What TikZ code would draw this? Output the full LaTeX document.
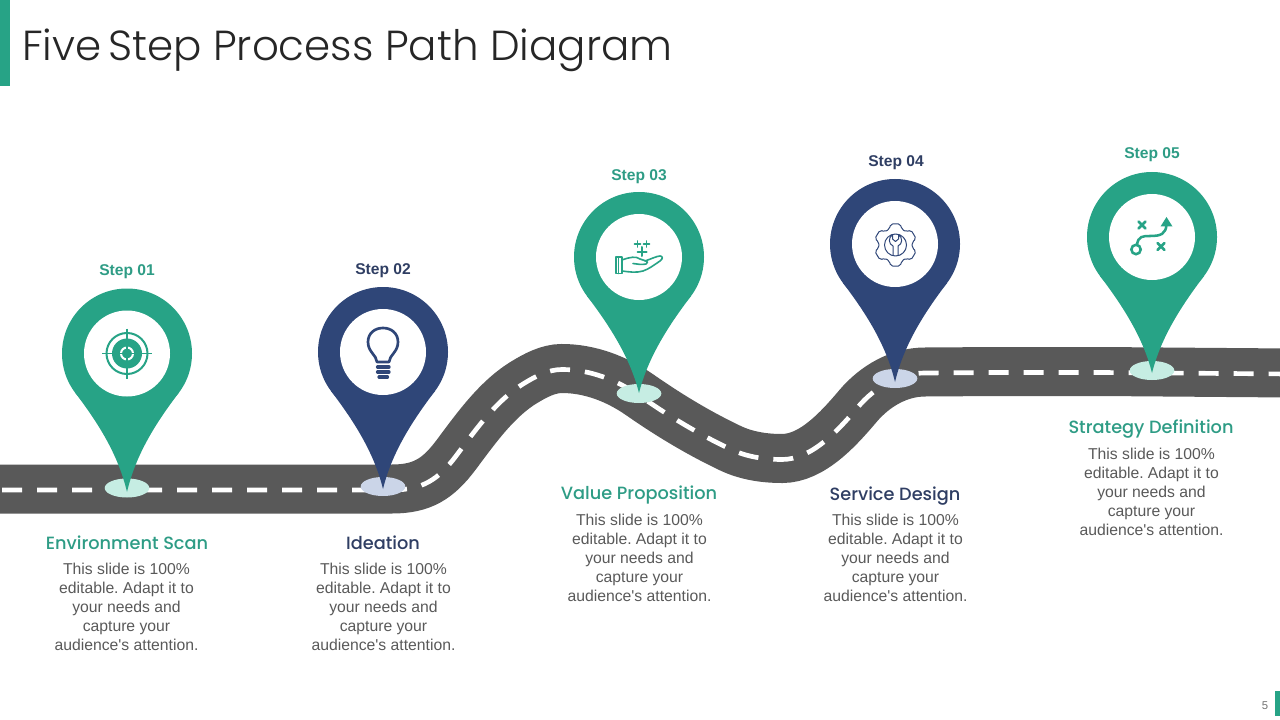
\documentclass[tikz,border=0pt]{standalone}
\usepackage{fontspec}
\setmainfont{Liberation Sans}
\newfontfamily\titlefont{Poppins Light}
\newfontfamily\headfont{Poppins Medium}
\definecolor{teal1}{HTML}{27A386}
\definecolor{navy1}{HTML}{2F4678}
\definecolor{road}{HTML}{595959}
\definecolor{lgreen}{HTML}{C6EDE3}
\definecolor{lblue}{HTML}{CBD5E8}
\definecolor{bodyc}{HTML}{595959}
\definecolor{headteal}{HTML}{2E9C85}
\definecolor{headnavy}{HTML}{2F3E63}
\tikzset{
  steplabel/.style={font=\fontsize{11.7}{14}\selectfont\bfseries,inner sep=0pt},
  headlabel/.style={font=\headfont\fontsize{13.3}{16}\selectfont,inner sep=0pt,anchor=base},
  bodytext/.style={font=\fontsize{11.8}{14.25}\selectfont\frenchspacing,text=bodyc,align=center,inner sep=0pt},
}
\newcommand{\roadline}[1]{\draw[#1] (-33,490) -- (392,490)
  .. controls (422,490) and (438,480) .. (456,456)
  .. controls (475.2,430.4) and (495.8,401) .. (523,384)
  .. controls (535,376.6) and (548,369.5) .. (562,369.5)
  .. controls (590,369.5) and (617,380) .. (640,396)
  .. controls (668.7,416) and (698.5,434) .. (730,449)
  .. controls (746,456.7) and (764,459.5) .. (782,459.5)
  .. controls (812,459.5) and (838.5,430) .. (858,407)
  .. controls (875,387) and (899,373) .. (925,373)
  -- (1000,372.5) -- (1100,372.5) -- (1290,374);}
\newcommand{\pin}[6]{%
  \fill[#5] (#1,#6) ellipse [x radius=22.3,y radius=9.5];
  \fill[#4] (#1,#2) circle [radius=65];
  \fill[#4] (#1-52,#2+39) .. controls (#1-30,#2+68) and (#1-9,#2+100) .. (#1,#2+#3)
     .. controls (#1+9,#2+100) and (#1+30,#2+68) .. (#1+52,#2+39) -- cycle;
  \fill[white] (#1,#2) circle [radius=43];
}
\begin{document}
\begin{tikzpicture}[x=0.75pt,y=-0.75pt]
\useasboundingbox (0,0) rectangle (1280,720);
\fill[teal1] (0,0) rectangle (10,86);
\fill[teal1] (1275,691) rectangle (1280,716);
\node[anchor=base west,inner sep=0pt,text=black!85,font=\titlefont\fontsize{31.5}{38}\selectfont] (title) at (22,61) {Five\hspace{-0.12em} Step Process Path Diagram};
\node[inner sep=0pt,text=black!55,font=\fontsize{8.5}{10}\selectfont] (pageno) at (1265,706) {5};
\begin{scope}
\clip (0,0) rectangle (1280,720);
\begin{scope}[yshift=0.75pt]
\roadline{road,line width=36.75pt}
\end{scope}
\roadline{white,line width=3.5pt,dash pattern=on 15pt off 11.25pt}
\end{scope}
\pin{127}{353.5}{138.5}{teal1}{lgreen}{488}
\pin{383}{352}{137}{navy1}{lblue}{486.5}
\pin{639}{257}{136}{teal1}{lgreen}{393.5}
\pin{895}{244}{138}{navy1}{lblue}{378.5}
\pin{1152}{237}{136}{teal1}{lgreen}{370.5}
% target icon
\draw[teal1,line width=1.5pt] (127,353.5) circle [radius=20.5];
\fill[teal1] (127,353.5) circle [radius=15];
\draw[white,line width=1.5pt] (127,353.5) circle [radius=6];
\draw[teal1,line width=1.4pt] (102,353.5) -- (152,353.5) (127,328.5) -- (127,378.5);
% bulb icon
\draw[navy1,line width=2pt,line join=round] (377,362) .. controls (376.5,355) and (368,352) .. (368,342) .. controls (368,333) and (375,328) .. (383,328) .. controls (391,328) and (398,333) .. (398,342) .. controls (398,352) and (389.5,355) .. (389,362) -- cycle;
\draw[navy1,line width=2.4pt,line cap=round] (377.5,367) -- (389,367) (377.5,372) -- (389,372) (379,377) -- (387.5,377);
% hand icon
\begin{scope}[teal1,line width=1.2pt,line join=round,line cap=round]
\draw (616,257) rectangle (622,273.5);
\draw (618.6,257) -- (618.6,273.5);
\draw (622,260) .. controls (630,257) and (636,256) .. (640,259) .. controls (645,261) and (650,261) .. (646,264)
  .. controls (642,265) and (637,264) .. (633,263.5);
\draw (645,261) .. controls (651,259) and (657,256) .. (660,256) .. controls (663,256) and (663,259) .. (660,261)
  .. controls (654,265) and (649,269) .. (643,271) .. controls (636,273) and (630,272) .. (622,271);
\draw[line width=1.5pt] (642,247) -- (642,256) (637.5,251.5) -- (646.5,251.5);
\draw[line width=1.4pt] (637.5,241) -- (637.5,247) (634.5,244) -- (640.5,244);
\draw[line width=1.4pt] (646.5,241) -- (646.5,247) (643.5,244) -- (649.5,244);
\end{scope}
% gear icon
\begin{scope}[shift={(895.5,245)},navy1,line width=0.75pt,line join=round]
\draw[rounded corners=1.5pt] (-6,-16) -- (-5,-21) -- (5,-21) -- (6,-16) -- (10.7,-13.2) -- (15.5,-15) -- (20.7,-6.3) -- (16.7,-3) -- (16.7,3) -- (20.7,6.3) -- (15.5,15) -- (10.7,13.2) -- (6,16) -- (5,21) -- (-5,21) -- (-6,16) -- (-10.7,13.2) -- (-15.5,15) -- (-20.7,6.3) -- (-16.7,3) -- (-16.7,-3) -- (-20.7,-6.3) -- (-15.5,-15) -- (-10.7,-13.2) -- cycle;
\draw (0,0) circle [radius=11];
\draw (-2.5,10.7) -- (-2.5,1) .. controls (-7,-1) and (-7.5,-7) .. (-3,-10.5) -- (-3,-6) -- (0,-3.5) -- (3,-6) -- (3,-10.5) .. controls (7.5,-7) and (7,-1) .. (2.5,1) -- (2.5,10.7);
\end{scope}
% strategy icon
\begin{scope}[teal1,line width=1.9pt,line cap=round]
\draw (1136,249.5) circle [radius=4.7];
\draw (1137,245) .. controls (1138,236) and (1143,236) .. (1150,236) .. controls (1161,236) and (1166,234) .. (1166.5,224);
\fill (1166.5,217) -- (1172.5,226.5) -- (1160.5,226.5) -- cycle;
\draw (1138.5,221.5) -- (1145.5,228.5) (1145.5,221.5) -- (1138.5,228.5);
\draw (1157.5,243) -- (1164.5,250) (1164.5,243) -- (1157.5,250);
\end{scope}
% labels
\node[steplabel,text=headteal] (s1) at (127,271.5) {Step 01};
\node[steplabel,text=headnavy] (s2) at (383,270.5) {Step 02};
\node[steplabel,text=headteal] (s3) at (639,176.5) {Step 03};
\node[steplabel,text=headnavy] (s4) at (896,162.5) {Step 04};
\node[steplabel,text=headteal] (s5) at (1152,154.5) {Step 05};
\node[headlabel,text=headteal] (h1) at (127,549.5) {Environment Scan};
\node[headlabel,text=headnavy] (h2) at (383,549.5) {Ideation};
\node[headlabel,text=headteal] (h3) at (639,499.5) {Value Proposition};
\node[headlabel,text=headnavy] (h4) at (895,500.5) {Service Design};
\node[headlabel,text=headteal] (h5) at (1151,433.5) {Strategy Definition};
\newcommand{\bodytxt}{This slide is 100\%\\editable. Adapt it to\\your needs and\\capture your\\audience\textquotesingle s attention.}
\node[bodytext] (b1) at (126.5,607) {\bodytxt};
\node[bodytext] (b2) at (383.5,607) {\bodytxt};
\node[bodytext] (b3) at (639.5,558) {\bodytxt};
\node[bodytext] (b4) at (895.5,558) {\bodytxt};
\node[bodytext] (b5) at (1151.5,492) {\bodytxt};
\end{tikzpicture}
\end{document}
